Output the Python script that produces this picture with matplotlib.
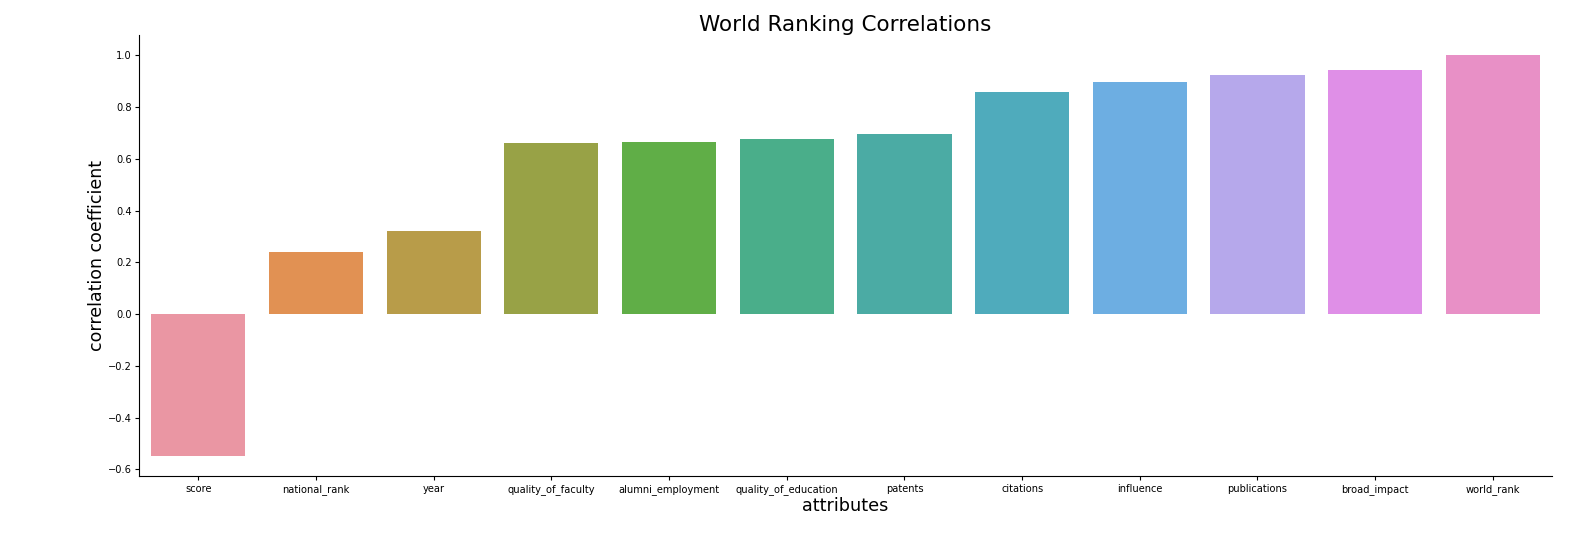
import numpy as np
import seaborn as sns
from matplotlib import pyplot as plt

attributes = ['score', 'national_rank', 'year', 'quality_of_faculty',
              'alumni_employment', 'quality_of_education', 'patents',
              'citations', 'influence', 'publications', 'broad_impact',
              'world_rank']
corr = [-0.548, 0.240, 0.323, 0.663, 0.666, 0.678, 0.698,
        0.857, 0.899, 0.926, 0.945, 1.0]

# husl palette, desaturated like old seaborn barplot
colors = [sns.desaturate(c, 0.75) for c in sns.husl_palette(len(attributes), l=.7)]

fig, ax = plt.subplots(figsize=(15.85, 5.36), dpi=100)
x = np.arange(len(attributes))
ax.bar(x, corr, width=0.8, color=colors)
ax.set_xticks(x)
ax.set_xticklabels(attributes)
ax.set_xlim(-0.5, len(attributes) - 0.5)
ax.tick_params(labelsize=7.1, length=3, pad=2.5)
ax.set_title('World Ranking Correlations', fontsize=15.5, pad=3)
ax.set_xlabel('attributes', fontsize=12.7, labelpad=2)
ax.set_ylabel('correlation coefficient', fontsize=12.5, labelpad=1.5)
for s in ['top', 'right']:
    ax.spines[s].set_visible(False)
plt.subplots_adjust(left=0.088, right=0.979, top=0.934, bottom=0.112)
plt.savefig('out.png', dpi=100)
